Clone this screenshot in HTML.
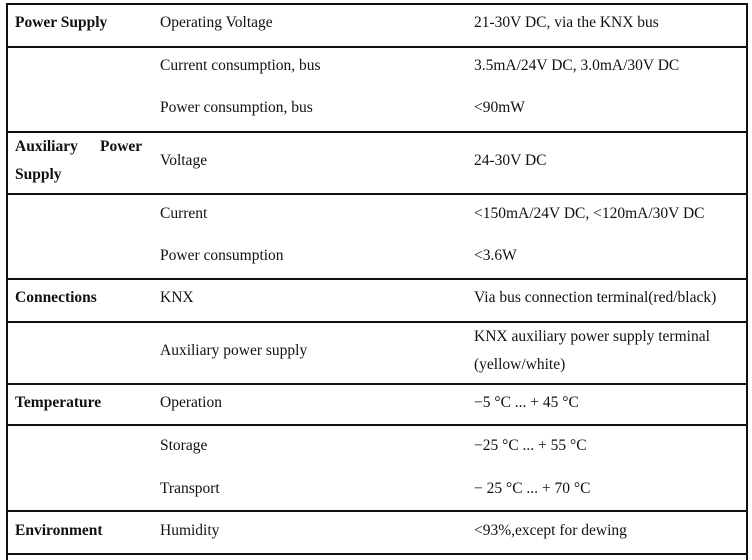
<!DOCTYPE html>
<html><head><style>
html,body{margin:0;padding:0;background:#fff;}
body{width:752px;height:560px;position:relative;overflow:hidden;font-family:"Liberation Serif",serif;font-size:15.5px;color:#111;}
.h{position:absolute;left:6px;width:742px;height:1.5px;background:#111;}
.v{position:absolute;top:3px;width:1.5px;height:557px;background:#111;}
.t{position:absolute;white-space:nowrap;line-height:18px;transform:translateY(-8px);}
.b{font-weight:bold;}
</style></head><body>
<div class="v" style="left:6px"></div>
<div class="v" style="left:746px"></div>
<div class="h" style="top:3px"></div>
<div class="h" style="top:46px"></div>
<div class="h" style="top:131px"></div>
<div class="h" style="top:193px"></div>
<div class="h" style="top:278px"></div>
<div class="h" style="top:321px"></div>
<div class="h" style="top:383px"></div>
<div class="h" style="top:424px"></div>
<div class="h" style="top:510px"></div>
<div class="h" style="top:553px"></div>

<div class="t b" style="left:15px;top:22px">Power Supply</div>
<div class="t" style="left:160px;top:22px">Operating Voltage</div>
<div class="t" style="left:474px;top:22px">21-30V DC, via the KNX bus</div>
<div class="t" style="left:160px;top:65px">Current consumption, bus</div>
<div class="t" style="left:474px;top:65px">3.5mA/24V DC, 3.0mA/30V DC</div>
<div class="t" style="left:160px;top:107px">Power consumption, bus</div>
<div class="t" style="left:474px;top:107px">&lt;90mW</div>

<div class="t b" style="left:15px;top:146px">Auxiliary</div>
<div class="t b" style="left:100px;top:146px">Power</div>
<div class="t b" style="left:15px;top:174px">Supply</div>
<div class="t" style="left:160px;top:160px">Voltage</div>
<div class="t" style="left:474px;top:160px">24-30V DC</div>
<div class="t" style="left:160px;top:213px">Current</div>
<div class="t" style="left:474px;top:213px">&lt;150mA/24V DC, &lt;120mA/30V DC</div>
<div class="t" style="left:160px;top:255px">Power consumption</div>
<div class="t" style="left:474px;top:255px">&lt;3.6W</div>

<div class="t b" style="left:15px;top:297px">Connections</div>
<div class="t" style="left:160px;top:297px">KNX</div>
<div class="t" style="left:474px;top:297px">Via bus connection terminal(red/black)</div>
<div class="t" style="left:160px;top:350px">Auxiliary power supply</div>
<div class="t" style="left:474px;top:336px">KNX auxiliary power supply terminal</div>
<div class="t" style="left:474px;top:364px">(yellow/white)</div>

<div class="t b" style="left:15px;top:402px">Temperature</div>
<div class="t" style="left:160px;top:402px">Operation</div>
<div class="t" style="left:474px;top:402px">−5 °C ... + 45 °C</div>
<div class="t" style="left:160px;top:445px">Storage</div>
<div class="t" style="left:474px;top:445px">−25 °C ... + 55 °C</div>
<div class="t" style="left:160px;top:488px">Transport</div>
<div class="t" style="left:474px;top:488px">− 25 °C ... + 70 °C</div>

<div class="t b" style="left:15px;top:530px">Environment</div>
<div class="t" style="left:160px;top:530px">Humidity</div>
<div class="t" style="left:474px;top:530px">&lt;93%,except for dewing</div>
</body></html>
